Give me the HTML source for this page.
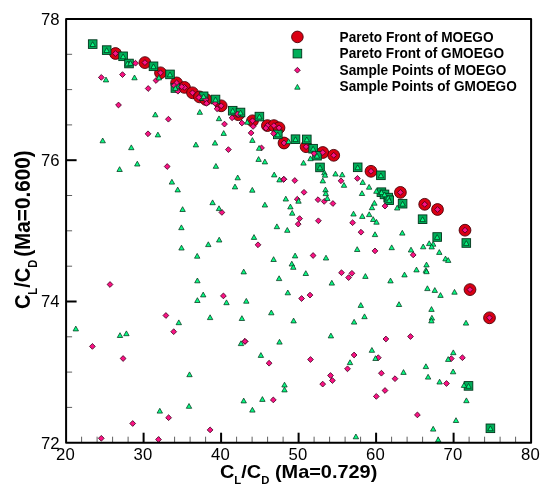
<!DOCTYPE html><html><head><meta charset="utf-8"><title>Pareto Front</title>
<style>html,body{margin:0;padding:0;background:#fff}svg{display:block}text{font-family:"Liberation Sans",Arial,Helvetica,sans-serif;fill:#000}.b{font-weight:bold}</style></head><body>
<svg width="550" height="495" viewBox="0 0 550 495">
<rect width="550" height="495" fill="#fff"/>
<g stroke="#2a2a2a" stroke-width="0.75">
<line x1="81.6" y1="442.7" x2="81.6" y2="436.7"/>
<line x1="97.1" y1="442.7" x2="97.1" y2="436.7"/>
<line x1="112.6" y1="442.7" x2="112.6" y2="436.7"/>
<line x1="128.1" y1="442.7" x2="128.1" y2="436.7"/>
<line x1="159.1" y1="442.7" x2="159.1" y2="436.7"/>
<line x1="174.6" y1="442.7" x2="174.6" y2="436.7"/>
<line x1="190.1" y1="442.7" x2="190.1" y2="436.7"/>
<line x1="205.6" y1="442.7" x2="205.6" y2="436.7"/>
<line x1="236.6" y1="442.7" x2="236.6" y2="436.7"/>
<line x1="252.1" y1="442.7" x2="252.1" y2="436.7"/>
<line x1="267.6" y1="442.7" x2="267.6" y2="436.7"/>
<line x1="283.1" y1="442.7" x2="283.1" y2="436.7"/>
<line x1="314.1" y1="442.7" x2="314.1" y2="436.7"/>
<line x1="329.6" y1="442.7" x2="329.6" y2="436.7"/>
<line x1="345.1" y1="442.7" x2="345.1" y2="436.7"/>
<line x1="360.6" y1="442.7" x2="360.6" y2="436.7"/>
<line x1="391.6" y1="442.7" x2="391.6" y2="436.7"/>
<line x1="407.1" y1="442.7" x2="407.1" y2="436.7"/>
<line x1="422.6" y1="442.7" x2="422.6" y2="436.7"/>
<line x1="438.1" y1="442.7" x2="438.1" y2="436.7"/>
<line x1="469.1" y1="442.7" x2="469.1" y2="436.7"/>
<line x1="484.6" y1="442.7" x2="484.6" y2="436.7"/>
<line x1="500.1" y1="442.7" x2="500.1" y2="436.7"/>
<line x1="515.6" y1="442.7" x2="515.6" y2="436.7"/>
<line x1="66.1" y1="54.3" x2="72.1" y2="54.3"/>
<line x1="66.1" y1="89.6" x2="72.1" y2="89.6"/>
<line x1="66.1" y1="124.9" x2="72.1" y2="124.9"/>
<line x1="66.1" y1="195.5" x2="72.1" y2="195.5"/>
<line x1="66.1" y1="230.8" x2="72.1" y2="230.8"/>
<line x1="66.1" y1="266.2" x2="72.1" y2="266.2"/>
<line x1="66.1" y1="336.8" x2="72.1" y2="336.8"/>
<line x1="66.1" y1="372.1" x2="72.1" y2="372.1"/>
<line x1="66.1" y1="407.4" x2="72.1" y2="407.4"/>
</g>
<g stroke="#000" stroke-width="2">
<line x1="143.6" y1="442.7" x2="143.6" y2="432.7"/>
<line x1="221.1" y1="442.7" x2="221.1" y2="432.7"/>
<line x1="298.6" y1="442.7" x2="298.6" y2="432.7"/>
<line x1="376.1" y1="442.7" x2="376.1" y2="432.7"/>
<line x1="453.6" y1="442.7" x2="453.6" y2="432.7"/>
<line x1="66.1" y1="160.2" x2="76.6" y2="160.2"/>
<line x1="66.1" y1="301.5" x2="76.6" y2="301.5"/>
</g>
<defs><clipPath id="c"><rect x="66.1" y="19.0" width="465.0" height="423.7"/></clipPath></defs>
<g clip-path="url(#c)">
<g fill="#da0012" stroke="#4a0008" stroke-width="0.9"><circle cx="115.5" cy="53.5" r="5.9"/><circle cx="144.9" cy="62.6" r="5.9"/><circle cx="160.5" cy="72.8" r="5.9"/><circle cx="176.6" cy="82.9" r="5.9"/><circle cx="184.5" cy="87.4" r="5.9"/><circle cx="192.5" cy="92.8" r="5.9"/><circle cx="199.5" cy="96.9" r="5.9"/><circle cx="205.9" cy="99.5" r="5.9"/><circle cx="221.2" cy="105.8" r="5.9"/><circle cx="238.3" cy="114.7" r="5.9"/><circle cx="252.5" cy="120.8" r="5.9"/><circle cx="267.4" cy="125.6" r="5.9"/><circle cx="273.9" cy="125.6" r="5.9"/><circle cx="279" cy="127.8" r="5.9"/><circle cx="284" cy="143" r="5.9"/><circle cx="306.1" cy="146.7" r="5.9"/><circle cx="322.8" cy="152.5" r="5.9"/><circle cx="333.7" cy="155.3" r="5.9"/><circle cx="371" cy="171.3" r="5.9"/><circle cx="400.4" cy="192.4" r="5.9"/><circle cx="424.7" cy="204.3" r="5.9"/><circle cx="437.5" cy="209.5" r="5.9"/><circle cx="465" cy="230.2" r="5.9"/><circle cx="470" cy="289.6" r="5.9"/><circle cx="489.5" cy="317.8" r="5.9"/></g>
<g fill="#00ae59" stroke="#00331a" stroke-width="0.9"><rect x="88.4" y="39.8" width="8.6" height="8.6"/><rect x="102.4" y="45.8" width="8.6" height="8.6"/><rect x="118.8" y="52.0" width="8.6" height="8.6"/><rect x="124.7" y="59.2" width="8.6" height="8.6"/><rect x="149.2" y="62.0" width="8.6" height="8.6"/><rect x="165.7" y="70.1" width="8.6" height="8.6"/><rect x="171.1" y="83.7" width="8.6" height="8.6"/><rect x="199.3" y="92.0" width="8.6" height="8.6"/><rect x="211.2" y="95.2" width="8.6" height="8.6"/><rect x="228.4" y="106.4" width="8.6" height="8.6"/><rect x="236.2" y="108.2" width="8.6" height="8.6"/><rect x="255.1" y="112.3" width="8.6" height="8.6"/><rect x="273.5" y="130.1" width="8.6" height="8.6"/><rect x="291.2" y="134.9" width="8.6" height="8.6"/><rect x="302.5" y="135.1" width="8.6" height="8.6"/><rect x="308.8" y="144.4" width="8.6" height="8.6"/><rect x="312.7" y="151.4" width="8.6" height="8.6"/><rect x="315.7" y="163.1" width="8.6" height="8.6"/><rect x="353.4" y="163.0" width="8.6" height="8.6"/><rect x="376.6" y="171.0" width="8.6" height="8.6"/><rect x="377.1" y="187.9" width="8.6" height="8.6"/><rect x="380.2" y="190.1" width="8.6" height="8.6"/><rect x="383.9" y="193.3" width="8.6" height="8.6"/><rect x="384.9" y="195.9" width="8.6" height="8.6"/><rect x="398.3" y="199.4" width="8.6" height="8.6"/><rect x="418.3" y="214.9" width="8.6" height="8.6"/><rect x="432.9" y="232.7" width="8.6" height="8.6"/><rect x="462.0" y="238.7" width="8.6" height="8.6"/><rect x="464.2" y="381.6" width="8.6" height="8.6"/><rect x="486.1" y="424.0" width="8.6" height="8.6"/></g>
<g fill="#fb1284" stroke="#3a001c" stroke-width="0.8"><path d="M112.6 53.5L115.5 50.6L118.4 53.5L115.5 56.4Z"/><path d="M142.0 62.6L144.9 59.7L147.8 62.6L144.9 65.5Z"/><path d="M157.6 72.8L160.5 69.9L163.4 72.8L160.5 75.7Z"/><path d="M173.7 82.9L176.6 80.0L179.5 82.9L176.6 85.8Z"/><path d="M181.6 87.4L184.5 84.5L187.4 87.4L184.5 90.3Z"/><path d="M189.6 92.8L192.5 89.9L195.4 92.8L192.5 95.7Z"/><path d="M196.6 96.9L199.5 94.0L202.4 96.9L199.5 99.8Z"/><path d="M203.0 99.5L205.9 96.6L208.8 99.5L205.9 102.4Z"/><path d="M218.3 105.8L221.2 102.9L224.1 105.8L221.2 108.7Z"/><path d="M235.4 114.7L238.3 111.8L241.2 114.7L238.3 117.6Z"/><path d="M249.6 120.8L252.5 117.9L255.4 120.8L252.5 123.7Z"/><path d="M264.5 125.6L267.4 122.7L270.3 125.6L267.4 128.5Z"/><path d="M271.0 125.6L273.9 122.7L276.8 125.6L273.9 128.5Z"/><path d="M276.1 127.8L279 124.9L281.9 127.8L279 130.7Z"/><path d="M281.1 143L284 140.1L286.9 143L284 145.9Z"/><path d="M303.2 146.7L306.1 143.8L309.0 146.7L306.1 149.6Z"/><path d="M319.9 152.5L322.8 149.6L325.7 152.5L322.8 155.4Z"/><path d="M330.8 155.3L333.7 152.4L336.6 155.3L333.7 158.2Z"/><path d="M368.1 171.3L371 168.4L373.9 171.3L371 174.2Z"/><path d="M397.5 192.4L400.4 189.5L403.3 192.4L400.4 195.3Z"/><path d="M421.8 204.3L424.7 201.4L427.6 204.3L424.7 207.2Z"/><path d="M434.6 209.5L437.5 206.6L440.4 209.5L437.5 212.4Z"/><path d="M462.1 230.2L465 227.3L467.9 230.2L465 233.1Z"/><path d="M467.1 289.6L470 286.7L472.9 289.6L470 292.5Z"/><path d="M486.6 317.8L489.5 314.9L492.4 317.8L489.5 320.7Z"/><path d="M132.6 63.2L135.5 60.3L138.4 63.2L135.5 66.1Z"/><path d="M98.4 77.4L101.3 74.5L104.2 77.4L101.3 80.3Z"/><path d="M119.6 74.6L122.5 71.7L125.4 74.6L122.5 77.5Z"/><path d="M145.3 88.5L148.2 85.6L151.1 88.5L148.2 91.4Z"/><path d="M153.1 80.5L156 77.6L158.9 80.5L156 83.4Z"/><path d="M115.6 105L118.5 102.1L121.4 105L118.5 107.9Z"/><path d="M171.2 85.5L174.1 82.6L177.0 85.5L174.1 88.4Z"/><path d="M175.0 91.2L177.9 88.3L180.8 91.2L177.9 94.1Z"/><path d="M178.8 86.7L181.7 83.8L184.6 86.7L181.7 89.6Z"/><path d="M196.0 97.5L198.9 94.6L201.8 97.5L198.9 100.4Z"/><path d="M203.6 103.3L206.5 100.4L209.4 103.3L206.5 106.2Z"/><path d="M212.2 103.3L215.1 100.4L218.0 103.3L215.1 106.2Z"/><path d="M214.2 108.8L217.1 105.9L220.0 108.8L217.1 111.7Z"/><path d="M165.5 119.2L168.4 116.3L171.3 119.2L168.4 122.1Z"/><path d="M221.6 124.1L224.5 121.2L227.4 124.1L224.5 127.0Z"/><path d="M234.6 114L237.5 111.1L240.4 114L237.5 116.9Z"/><path d="M229.2 117.8L232.1 114.9L235.0 117.8L232.1 120.7Z"/><path d="M239.0 123L241.9 120.1L244.8 123L241.9 125.9Z"/><path d="M250.2 126.4L253.1 123.5L256.0 126.4L253.1 129.3Z"/><path d="M263.0 128.1L265.9 125.2L268.8 128.1L265.9 131.0Z"/><path d="M270.7 133.6L273.6 130.7L276.5 133.6L273.6 136.5Z"/><path d="M248.2 132.9L251.1 130.0L254.0 132.9L251.1 135.8Z"/><path d="M225.5 149.6L228.4 146.7L231.3 149.6L228.4 152.5Z"/><path d="M258.6 147.9L261.5 145.0L264.4 147.9L261.5 150.8Z"/><path d="M311.2 153.5L314.1 150.6L317.0 153.5L314.1 156.4Z"/><path d="M338.1 180.8L341 177.9L343.9 180.8L341 183.7Z"/><path d="M354.5 178.4L357.4 175.5L360.3 178.4L357.4 181.3Z"/><path d="M291.9 180.5L294.8 177.6L297.7 180.5L294.8 183.4Z"/><path d="M280.9 179.3L283.8 176.4L286.7 179.3L283.8 182.2Z"/><path d="M382.1 206.1L385 203.2L387.9 206.1L385 209.0Z"/><path d="M145.1 133.8L148 130.9L150.9 133.8L148 136.7Z"/><path d="M164.3 166.5L167.2 163.6L170.1 166.5L167.2 169.4Z"/><path d="M301.1 192.3L304 189.4L306.9 192.3L304 195.2Z"/><path d="M315.1 199.7L318 196.8L320.9 199.7L318 202.6Z"/><path d="M321.3 201.4L324.2 198.5L327.1 201.4L324.2 204.3Z"/><path d="M330.0 203.5L332.9 200.6L335.8 203.5L332.9 206.4Z"/><path d="M294.4 199.2L297.3 196.3L300.2 199.2L297.3 202.1Z"/><path d="M296.7 218.6L299.6 215.7L302.5 218.6L299.6 221.5Z"/><path d="M295.3 224.1L298.2 221.2L301.1 224.1L298.2 227.0Z"/><path d="M315.5 220.8L318.4 217.9L321.3 220.8L318.4 223.7Z"/><path d="M255.1 244.8L258 241.9L260.9 244.8L258 247.7Z"/><path d="M349.7 222.7L352.6 219.8L355.5 222.7L352.6 225.6Z"/><path d="M358.1 232.2L361 229.3L363.9 232.2L361 235.1Z"/><path d="M372.1 250.9L375 248.0L377.9 250.9L375 253.8Z"/><path d="M410.3 254.9L413.2 252.0L416.1 254.9L413.2 257.8Z"/><path d="M349.0 273.3L351.9 270.4L354.8 273.3L351.9 276.2Z"/><path d="M345.7 277.6L348.6 274.7L351.5 277.6L348.6 280.5Z"/><path d="M219.0 212.4L221.9 209.5L224.8 212.4L221.9 215.3Z"/><path d="M107.1 284.5L110 281.6L112.9 284.5L110 287.4Z"/><path d="M89.5 346.4L92.4 343.5L95.3 346.4L92.4 349.3Z"/><path d="M120.2 358.5L123.1 355.6L126.0 358.5L123.1 361.4Z"/><path d="M220.5 295.9L223.4 293.0L226.3 295.9L223.4 298.8Z"/><path d="M163.0 315.5L165.9 312.6L168.8 315.5L165.9 318.4Z"/><path d="M170.8 331.7L173.7 328.8L176.6 331.7L173.7 334.6Z"/><path d="M242.1 341.4L245 338.5L247.9 341.4L245 344.3Z"/><path d="M310.2 255.5L313.1 252.6L316.0 255.5L313.1 258.4Z"/><path d="M338.6 272.7L341.5 269.8L344.4 272.7L341.5 275.6Z"/><path d="M307.1 295.1L310 292.2L312.9 295.1L310 298.0Z"/><path d="M298.7 298.5L301.6 295.6L304.5 298.5L301.6 301.4Z"/><path d="M266.2 363.2L269.1 360.3L272.0 363.2L269.1 366.1Z"/><path d="M307.6 359.5L310.5 356.6L313.4 359.5L310.5 362.4Z"/><path d="M344.6 368.8L347.5 365.9L350.4 368.8L347.5 371.7Z"/><path d="M327.6 375.5L330.5 372.6L333.4 375.5L330.5 378.4Z"/><path d="M329.5 380.5L332.4 377.6L335.3 380.5L332.4 383.4Z"/><path d="M319.8 384.1L322.7 381.2L325.6 384.1L322.7 387.0Z"/><path d="M270.4 399.9L273.3 397.0L276.2 399.9L273.3 402.8Z"/><path d="M407.6 336.5L410.5 333.6L413.4 336.5L410.5 339.4Z"/><path d="M383.0 339L385.9 336.1L388.8 339L385.9 341.9Z"/><path d="M351.2 355L354.1 352.1L357.0 355L354.1 357.9Z"/><path d="M375.4 357.7L378.3 354.8L381.2 357.7L378.3 360.6Z"/><path d="M378.5 373.2L381.4 370.3L384.3 373.2L381.4 376.1Z"/><path d="M448.4 358.6L451.3 355.7L454.2 358.6L451.3 361.5Z"/><path d="M459.5 357.7L462.4 354.8L465.3 357.7L462.4 360.6Z"/><path d="M443.6 383.5L446.5 380.6L449.4 383.5L446.5 386.4Z"/><path d="M392.1 378.7L395 375.8L397.9 378.7L395 381.6Z"/><path d="M382.1 390.5L385 387.6L387.9 390.5L385 393.4Z"/><path d="M373.4 396.4L376.3 393.5L379.2 396.4L376.3 399.3Z"/><path d="M414.5 414.9L417.4 412.0L420.3 414.9L417.4 417.8Z"/><path d="M129.8 423.5L132.7 420.6L135.6 423.5L132.7 426.4Z"/><path d="M98.4 438.3L101.3 435.4L104.2 438.3L101.3 441.2Z"/><path d="M155.6 439.5L158.5 436.6L161.4 439.5L158.5 442.4Z"/><path d="M165.7 417.7L168.6 414.8L171.5 417.7L168.6 420.6Z"/><path d="M207.2 429.9L210.1 427.0L213.0 429.9L210.1 432.8Z"/></g>
<g fill="#08fb84" stroke="#06351c" stroke-width="0.75"><path d="M90.0 46.5L92.7 41.7L95.4 46.5Z"/><path d="M104.0 52.5L106.7 47.7L109.4 52.5Z"/><path d="M120.4 58.7L123.1 53.9L125.8 58.7Z"/><path d="M126.3 65.9L129 61.1L131.7 65.9Z"/><path d="M150.8 68.7L153.5 63.9L156.2 68.7Z"/><path d="M167.3 76.8L170 72.0L172.7 76.8Z"/><path d="M172.7 90.4L175.4 85.6L178.1 90.4Z"/><path d="M200.9 98.7L203.6 93.9L206.3 98.7Z"/><path d="M212.8 101.9L215.5 97.1L218.2 101.9Z"/><path d="M230.0 113.1L232.7 108.3L235.4 113.1Z"/><path d="M237.8 114.9L240.5 110.1L243.2 114.9Z"/><path d="M256.7 119.0L259.4 114.2L262.1 119.0Z"/><path d="M275.1 136.8L277.8 132.0L280.5 136.8Z"/><path d="M292.8 141.6L295.5 136.8L298.2 141.6Z"/><path d="M304.1 141.8L306.8 137.0L309.5 141.8Z"/><path d="M310.4 151.1L313.1 146.3L315.8 151.1Z"/><path d="M314.3 158.1L317 153.3L319.7 158.1Z"/><path d="M317.3 169.8L320 165.0L322.7 169.8Z"/><path d="M355.0 169.7L357.7 164.9L360.4 169.7Z"/><path d="M378.2 177.7L380.9 172.9L383.6 177.7Z"/><path d="M378.7 194.6L381.4 189.8L384.1 194.6Z"/><path d="M381.8 196.8L384.5 192.0L387.2 196.8Z"/><path d="M385.5 200.0L388.2 195.2L390.9 200.0Z"/><path d="M386.5 202.6L389.2 197.8L391.9 202.6Z"/><path d="M399.9 206.1L402.6 201.3L405.3 206.1Z"/><path d="M419.9 221.6L422.6 216.8L425.3 221.6Z"/><path d="M434.5 239.4L437.2 234.6L439.9 239.4Z"/><path d="M463.6 245.4L466.3 240.6L469.0 245.4Z"/><path d="M465.8 388.3L468.5 383.5L471.2 388.3Z"/><path d="M487.7 430.7L490.4 425.9L493.1 430.7Z"/><path d="M124.8 65.9L127.5 61.1L130.2 65.9Z"/><path d="M127.8 65.4L130.5 60.6L133.2 65.4Z"/><path d="M103.3 81.9L106 77.1L108.7 81.9Z"/><path d="M131.8 79.8L134.5 75.0L137.2 79.8Z"/><path d="M156.2 79.9L158.9 75.1L161.6 79.9Z"/><path d="M197.1 114.3L199.8 109.5L202.5 114.3Z"/><path d="M216.3 120.7L219 115.9L221.7 120.7Z"/><path d="M152.6 116.8L155.3 112.0L158.0 116.8Z"/><path d="M244.6 124.2L247.3 119.4L250.0 124.2Z"/><path d="M285.9 143.6L288.6 138.8L291.3 143.6Z"/><path d="M249.7 142.4L252.4 137.6L255.1 142.4Z"/><path d="M221.0 135.4L223.7 130.6L226.4 135.4Z"/><path d="M212.3 145.1L215 140.3L217.7 145.1Z"/><path d="M256.4 150.3L259.1 145.5L261.8 150.3Z"/><path d="M255.9 161.4L258.6 156.6L261.3 161.4Z"/><path d="M262.2 163.9L264.9 159.1L267.6 163.9Z"/><path d="M307.8 160.7L310.5 155.9L313.2 160.7Z"/><path d="M300.8 165.1L303.5 160.3L306.2 165.1Z"/><path d="M321.7 174.8L324.4 170.0L327.1 174.8Z"/><path d="M322.3 177.2L325 172.4L327.7 177.2Z"/><path d="M320.1 182.9L322.8 178.1L325.5 182.9Z"/><path d="M332.8 176.0L335.5 171.2L338.2 176.0Z"/><path d="M339.5 176.8L342.2 172.0L344.9 176.8Z"/><path d="M341.3 187.3L344 182.5L346.7 187.3Z"/><path d="M360.0 184.4L362.7 179.6L365.4 184.4Z"/><path d="M366.4 189.2L369.1 184.4L371.8 189.2Z"/><path d="M359.3 195.5L362 190.7L364.7 195.5Z"/><path d="M373.7 193.3L376.4 188.5L379.1 193.3Z"/><path d="M371.7 205.2L374.4 200.4L377.1 205.2Z"/><path d="M369.3 209.7L372 204.9L374.7 209.7Z"/><path d="M394.5 210.0L397.2 205.2L399.9 210.0Z"/><path d="M426.5 245.6L429.2 240.8L431.9 245.6Z"/><path d="M430.5 246.2L433.2 241.4L435.9 246.2Z"/><path d="M429.0 248.9L431.7 244.1L434.4 248.9Z"/><path d="M436.6 254.4L439.3 249.6L442.0 254.4Z"/><path d="M442.8 260.9L445.5 256.1L448.2 260.9Z"/><path d="M445.5 262.4L448.2 257.6L450.9 262.4Z"/><path d="M451.8 294.2L454.5 289.4L457.2 294.2Z"/><path d="M437.8 297.4L440.5 292.6L443.2 297.4Z"/><path d="M463.3 325.1L466 320.3L468.7 325.1Z"/><path d="M155.2 136.9L157.9 132.1L160.6 136.9Z"/><path d="M100.0 142.8L102.7 138.0L105.4 142.8Z"/><path d="M128.6 149.7L131.3 144.9L134.0 149.7Z"/><path d="M134.6 166.0L137.3 161.2L140.0 166.0Z"/><path d="M116.9 171.5L119.6 166.7L122.3 171.5Z"/><path d="M193.2 146.9L195.9 142.1L198.6 146.9Z"/><path d="M213.2 168.3L215.9 163.5L218.6 168.3Z"/><path d="M169.2 184.1L171.9 179.3L174.6 184.1Z"/><path d="M175.0 191.9L177.7 187.1L180.4 191.9Z"/><path d="M235.0 179.8L237.7 175.0L240.4 179.8Z"/><path d="M232.3 188.9L235 184.1L237.7 188.9Z"/><path d="M249.6 192.2L252.3 187.4L255.0 192.2Z"/><path d="M209.9 204.7L212.6 199.9L215.3 204.7Z"/><path d="M271.5 176.9L274.2 172.1L276.9 176.9Z"/><path d="M276.8 181.9L279.5 177.1L282.2 181.9Z"/><path d="M322.8 191.9L325.5 187.1L328.2 191.9Z"/><path d="M323.1 195.6L325.8 190.8L328.5 195.6Z"/><path d="M324.6 200.5L327.3 195.7L330.0 200.5Z"/><path d="M283.1 201.0L285.8 196.2L288.5 201.0Z"/><path d="M295.8 203.2L298.5 198.4L301.2 203.2Z"/><path d="M262.2 207.0L264.9 202.2L267.6 207.0Z"/><path d="M287.7 208.9L290.4 204.1L293.1 208.9Z"/><path d="M289.5 215.2L292.2 210.4L294.9 215.2Z"/><path d="M274.2 228.7L276.9 223.9L279.6 228.7Z"/><path d="M284.6 232.3L287.3 227.5L290.0 232.3Z"/><path d="M251.3 239.4L254 234.6L256.7 239.4Z"/><path d="M350.8 216.0L353.5 211.2L356.2 216.0Z"/><path d="M359.6 218.4L362.3 213.6L365.0 218.4Z"/><path d="M366.5 216.6L369.2 211.8L371.9 216.6Z"/><path d="M370.5 221.5L373.2 216.7L375.9 221.5Z"/><path d="M373.8 224.2L376.5 219.4L379.2 224.2Z"/><path d="M372.3 236.6L375 231.8L377.7 236.6Z"/><path d="M399.6 235.1L402.3 230.3L405.0 235.1Z"/><path d="M354.5 251.5L357.2 246.7L359.9 251.5Z"/><path d="M389.0 249.7L391.7 244.9L394.4 249.7Z"/><path d="M408.3 252.0L411 247.2L413.7 252.0Z"/><path d="M420.5 248.8L423.2 244.0L425.9 248.8Z"/><path d="M423.8 266.9L426.5 262.1L429.2 266.9Z"/><path d="M423.2 272.4L425.9 267.6L428.6 272.4Z"/><path d="M423.8 273.7L426.5 268.9L429.2 273.7Z"/><path d="M413.8 271.9L416.5 267.1L419.2 271.9Z"/><path d="M401.8 276.9L404.5 272.1L407.2 276.9Z"/><path d="M362.7 278.4L365.4 273.6L368.1 278.4Z"/><path d="M387.8 282.9L390.5 278.1L393.2 282.9Z"/><path d="M424.7 290.6L427.4 285.8L430.1 290.6Z"/><path d="M432.1 292.4L434.8 287.6L437.5 292.4Z"/><path d="M216.3 210.6L219 205.8L221.7 210.6Z"/><path d="M179.9 211.5L182.6 206.7L185.3 211.5Z"/><path d="M178.7 229.7L181.4 224.9L184.1 229.7Z"/><path d="M216.5 242.0L219.2 237.2L221.9 242.0Z"/><path d="M205.6 246.6L208.3 241.8L211.0 246.6Z"/><path d="M178.8 250.0L181.5 245.2L184.2 250.0Z"/><path d="M194.5 258.2L197.2 253.4L199.9 258.2Z"/><path d="M241.0 273.9L243.7 269.1L246.4 273.9Z"/><path d="M194.7 282.8L197.4 278.0L200.1 282.8Z"/><path d="M73.1 330.9L75.8 326.1L78.5 330.9Z"/><path d="M117.3 337.5L120 332.7L122.7 337.5Z"/><path d="M123.7 335.7L126.4 330.9L129.1 335.7Z"/><path d="M200.5 296.9L203.2 292.1L205.9 296.9Z"/><path d="M194.7 302.5L197.4 297.7L200.1 302.5Z"/><path d="M223.8 304.7L226.5 299.9L229.2 304.7Z"/><path d="M243.6 303.2L246.3 298.4L249.0 303.2Z"/><path d="M176.1 324.7L178.8 319.9L181.5 324.7Z"/><path d="M207.4 319.6L210.1 314.8L212.8 319.6Z"/><path d="M239.2 320.5L241.9 315.7L244.6 320.5Z"/><path d="M238.3 345.6L241 340.8L243.7 345.6Z"/><path d="M186.8 376.7L189.5 371.9L192.2 376.7Z"/><path d="M270.9 261.5L273.6 256.7L276.3 261.5Z"/><path d="M292.4 257.9L295.1 253.1L297.8 257.9Z"/><path d="M323.3 260.0L326 255.2L328.7 260.0Z"/><path d="M289.1 266.0L291.8 261.2L294.5 266.0Z"/><path d="M290.6 269.3L293.3 264.5L296.0 269.3Z"/><path d="M303.1 275.5L305.8 270.7L308.5 275.5Z"/><path d="M276.4 280.6L279.1 275.8L281.8 280.6Z"/><path d="M329.1 285.1L331.8 280.3L334.5 285.1Z"/><path d="M285.1 294.8L287.8 290.0L290.5 294.8Z"/><path d="M268.6 314.8L271.3 310.0L274.0 314.8Z"/><path d="M290.9 322.9L293.6 318.1L296.3 322.9Z"/><path d="M276.8 344.1L279.5 339.3L282.2 344.1Z"/><path d="M328.2 337.9L330.9 333.1L333.6 337.9Z"/><path d="M258.2 357.4L260.9 352.6L263.6 357.4Z"/><path d="M347.3 364.6L350 359.8L352.7 364.6Z"/><path d="M281.8 387.0L284.5 382.2L287.2 387.0Z"/><path d="M281.8 391.9L284.5 387.1L287.2 391.9Z"/><path d="M259.7 401.4L262.4 396.6L265.1 401.4Z"/><path d="M249.7 412.1L252.4 407.3L255.1 412.1Z"/><path d="M358.1 307.4L360.8 302.6L363.5 307.4Z"/><path d="M396.3 306.5L399 301.7L401.7 306.5Z"/><path d="M428.8 311.4L431.5 306.6L434.2 311.4Z"/><path d="M429.2 320.1L431.9 315.3L434.6 320.1Z"/><path d="M428.7 322.9L431.4 318.1L434.1 322.9Z"/><path d="M361.8 318.7L364.5 313.9L367.2 318.7Z"/><path d="M351.4 324.1L354.1 319.3L356.8 324.1Z"/><path d="M369.2 352.3L371.9 347.5L374.6 352.3Z"/><path d="M372.8 360.5L375.5 355.7L378.2 360.5Z"/><path d="M400.8 374.4L403.5 369.6L406.2 374.4Z"/><path d="M423.2 368.6L425.9 363.8L428.6 368.6Z"/><path d="M450.6 354.7L453.3 349.9L456.0 354.7Z"/><path d="M445.5 361.4L448.2 356.6L450.9 361.4Z"/><path d="M450.4 373.8L453.1 369.0L455.8 373.8Z"/><path d="M436.9 384.0L439.6 379.2L442.3 384.0Z"/><path d="M461.3 387.4L464 382.6L466.7 387.4Z"/><path d="M463.7 402.7L466.4 397.9L469.1 402.7Z"/><path d="M425.4 379.1L428.1 374.3L430.8 379.1Z"/><path d="M430.5 431.1L433.2 426.3L435.9 431.1Z"/><path d="M353.2 438.8L355.9 434.0L358.6 438.8Z"/><path d="M435.5 441.9L438.2 437.1L440.9 441.9Z"/><path d="M157.1 413.1L159.8 408.3L162.5 413.1Z"/><path d="M186.3 408.3L189 403.5L191.7 408.3Z"/><path d="M241.0 402.9L243.7 398.1L246.4 402.9Z"/><path d="M453.3 422.5L456 417.7L458.7 422.5Z"/></g>
<g fill="#fb1284" stroke="#3a001c" stroke-width="0.8"><path d="M280.9 179.3L283.8 176.4L286.7 179.3L283.8 182.2Z"/><path d="M242.1 341.4L245 338.5L247.9 341.4L245 344.3Z"/></g>
</g>
<rect x="66.1" y="19.0" width="465.0" height="423.7" fill="none" stroke="#000" stroke-width="2" stroke-linejoin="round"/>
<g fill="#da0012" stroke="#4a0008" stroke-width="0.9"><circle cx="297.4" cy="36.9" r="5.8"/></g>
<g fill="#00ae59" stroke="#00331a" stroke-width="0.9"><rect x="293.1" y="49.3" width="8.6" height="8.6"/></g>
<g fill="#fb1284" stroke="#3a001c" stroke-width="0.8"><path d="M294.5 70.2L297.4 67.3L300.3 70.2L297.4 73.1Z"/></g>
<g fill="#08fb84" stroke="#06351c" stroke-width="0.75"><path d="M294.7 89.2L297.4 84.4L300.1 89.2Z"/></g>
<g class="b" font-size="14px">
<text x="339.6" y="41.5" textLength="154" lengthAdjust="spacingAndGlyphs">Pareto Front of MOEGO</text>
<text x="339.6" y="58.0" textLength="164.4" lengthAdjust="spacingAndGlyphs">Pareto Front of GMOEGO</text>
<text x="339.6" y="74.5" textLength="166.8" lengthAdjust="spacingAndGlyphs">Sample Points of MOEGO</text>
<text x="339.6" y="91.0" textLength="177.2" lengthAdjust="spacingAndGlyphs">Sample Points of GMOEGO</text>
</g>
<g font-size="16.7px">
<text x="59.5" y="24.8" text-anchor="end">78</text>
<text x="59.5" y="166.0" text-anchor="end">76</text>
<text x="59.5" y="307.3" text-anchor="end">74</text>
<text x="59.5" y="448.5" text-anchor="end">72</text>
<text x="65.4" y="460.1" text-anchor="middle">20</text>
<text x="142.9" y="460.1" text-anchor="middle">30</text>
<text x="220.4" y="460.1" text-anchor="middle">40</text>
<text x="297.9" y="460.1" text-anchor="middle">50</text>
<text x="375.4" y="460.1" text-anchor="middle">60</text>
<text x="452.9" y="460.1" text-anchor="middle">70</text>
<text x="530.4" y="460.1" text-anchor="middle">80</text>
</g>
<text class="b" font-size="19px" x="220" y="477.6" textLength="157.3" lengthAdjust="spacingAndGlyphs"><tspan>C</tspan><tspan font-size="10.8px" dy="6">L</tspan><tspan dy="-6">/C</tspan><tspan font-size="10.8px" dy="6">D</tspan><tspan dy="-6"> (Ma=0.729)</tspan></text>
<g class="b" font-size="21.5px" transform="translate(30.3,309.1) rotate(-90)"><text x="0" y="0" textLength="49.3" lengthAdjust="spacingAndGlyphs"><tspan>C</tspan><tspan font-size="12px" dy="6.6">L</tspan><tspan dy="-6.6">/C</tspan><tspan font-size="12px" dy="6.6">D</tspan></text><text x="52.3" y="0" textLength="106.4" lengthAdjust="spacingAndGlyphs">(Ma=0.600)</text></g>
</svg></body></html>
